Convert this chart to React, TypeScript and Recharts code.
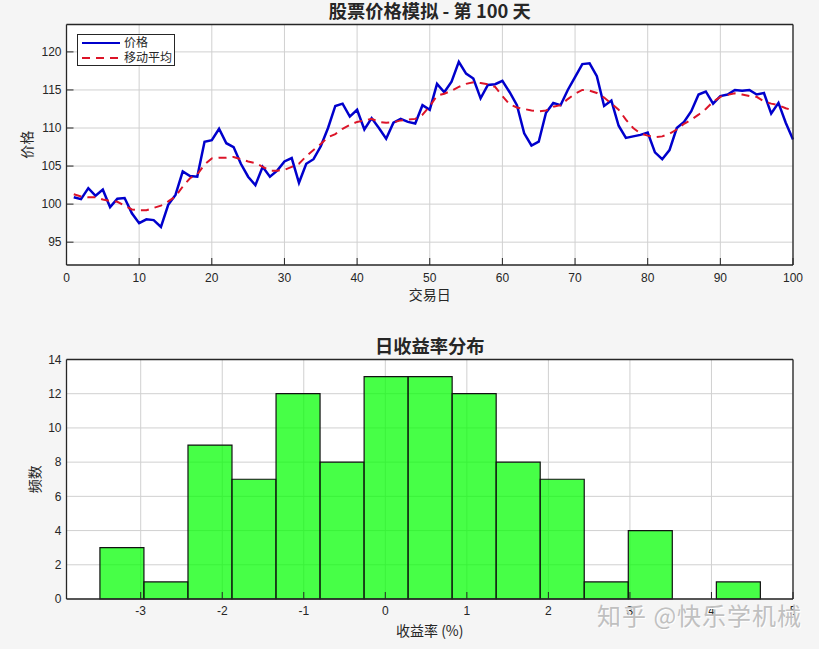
import React from 'react';
import { ComposedChart, Line, Bar, XAxis, YAxis, CartesianGrid, Legend } from 'recharts';

const days: number[] = Array.from({ length: 100 }, (_, i) => i + 1);
const priceValues = [
  100.9, 100.65, 102.1, 101.1, 101.9, 99.6, 100.7, 100.8, 98.8, 97.5,
  98.0, 97.9, 97.0, 99.9, 101.2, 104.3, 103.7, 103.6, 108.2, 108.4,
  109.9, 108.0, 107.5, 105.3, 103.6, 102.5, 104.9, 103.6, 104.4, 105.6,
  106.05, 102.8, 105.3, 105.9, 107.6, 110.0, 112.9, 113.2, 111.5, 112.4,
  109.8, 111.3, 110.0, 108.6, 110.7, 111.2, 110.8, 110.6, 113.0, 112.4,
  115.8, 114.7, 116.1, 118.7, 117.15, 116.5, 113.9, 115.65, 115.75, 116.2,
  114.7, 113.0, 109.3, 107.7, 108.2, 112.0, 113.3, 113.0, 115.0, 116.7,
  118.4, 118.5, 116.8, 112.9, 113.6, 110.3, 108.7, 108.9, 109.1, 109.4,
  106.8, 105.9, 107.1, 110.0, 110.8, 112.2, 114.4, 114.8, 113.2, 114.2,
  114.4, 115.0, 114.9, 115.0, 114.4, 114.6, 111.9, 113.3, 110.7, 108.5,
];
const movingAvg = [
  101.3, 101.0, 100.9, 100.9, 100.6, 100.4, 100.3, 99.8, 99.3, 99.2,
  99.2, 99.5, 99.8, 100.35, 101.0, 102.3, 103.4, 103.9, 105.2, 106.0,
  106.1, 106.1, 106.2, 105.9, 105.6, 105.4, 104.9, 104.4, 104.4, 104.5,
  104.9, 105.3, 106.3, 107.1, 107.9, 108.8, 109.2, 109.9, 110.4, 110.8,
  111.0, 111.2, 110.8, 110.7, 110.75, 111.0, 111.1, 111.2, 111.75, 112.85,
  114.25, 114.5, 114.9, 115.4, 115.8, 116.0, 115.9, 115.75, 115.4, 114.2,
  113.1, 112.7, 112.5, 112.3, 112.2, 112.3, 112.8, 113.0, 113.8, 114.5,
  115.0, 114.9, 114.6, 114.0, 113.2, 112.4, 111.1, 110.0, 109.3, 109.0,
  108.8, 108.9, 109.25, 109.8, 110.55, 111.1, 111.75, 112.5, 113.45, 114.1,
  114.35, 114.55, 114.4, 114.2, 114.1, 113.5, 113.2, 113.0, 112.6, 112.3,
];
const priceData = days.map((d, i) => ({ day: d, price: priceValues[i], ma: movingAvg[i] }));

const binCenters = [-3.23, -2.69, -2.15, -1.61, -1.07, -0.53, 0.01, 0.55, 1.09, 1.63, 2.17, 2.71, 3.25, 3.79, 4.33];
const binCounts = [3, 1, 9, 7, 12, 8, 13, 13, 12, 8, 7, 1, 4, 0, 1];
const histData = binCenters.map((c, i) => ({ r: c, count: binCounts[i] }));

const dayTicks = [0, 10, 20, 30, 40, 50, 60, 70, 80, 90, 100];
const priceTicks = [95, 100, 105, 110, 115, 120];
const returnTicks = [-3, -2, -1, 0, 1, 2, 3, 4, 5];
const countTicks = [0, 2, 4, 6, 8, 10, 12, 14];

const CJK = '"Noto Sans CJK SC", sans-serif';
const LATIN = '"Liberation Sans", Arial, sans-serif';
const INK = '#262626';
const GRID = '#d0d0d0';
const tickStyle = { fontSize: 12, fontFamily: LATIN, fill: INK };
const titleStyle = { fontSize: 18.3, fontWeight: 700, fontFamily: CJK, fill: INK };
const labelStyle = { fontSize: 14, fontFamily: CJK, fill: INK };
const axisLine = { stroke: INK, strokeWidth: 1.3 };

function LegendBox({ payload }: any) {
  return (
    <div style={{ width: 96, height: 30, border: `1px solid ${INK}`, background: '#fff', fontFamily: CJK, fontSize: 12, lineHeight: '14.5px', color: INK }}>
      {(payload || []).map((p: any) => (
        <div key={p.value} style={{ display: 'flex', alignItems: 'center', height: 15 }}>
          <svg width={46} height={6} style={{ display: 'block', flex: 'none' }}>
            <line x1={4} x2={42} y1={3} y2={3} stroke={p.color} strokeWidth={2.2} strokeDasharray={p.payload?.strokeDasharray} />
          </svg>
          <span>{p.value}</span>
        </div>
      ))}
    </div>
  );
}

export default function App() {
  return (
    <div style={{ position: 'absolute', left: 0, top: 0, width: 819, height: 649, background: '#f5f5f5', overflow: 'hidden' }}>
      <div style={{ position: 'absolute', left: 0, top: 0 }}>
        <ComposedChart width={819} height={325} data={priceData} margin={{ top: 23.5, right: 25, bottom: 30, left: 0 }}>
          <CartesianGrid xAxisId="b" yAxisId="l" fill="#fff" stroke={GRID} verticalValues={dayTicks} horizontalValues={priceTicks} />
          <XAxis xAxisId="b" dataKey="day" type="number" domain={[0, 100]} ticks={dayTicks} height={30} interval={0}
            stroke={INK} axisLine={axisLine} tick={tickStyle} tickSize={-7} tickMargin={15}
            label={{ value: '交易日', position: 'insideBottom', offset: -5, style: labelStyle }} />
          <XAxis xAxisId="t" orientation="top" type="number" domain={[0, 100]} ticks={dayTicks} height={1} interval={0}
            stroke={INK} axisLine={axisLine} tick={false} tickSize={-7}
            label={{ value: '股票价格模拟 - 第 100 天', position: 'top', offset: 6, style: titleStyle }} />
          <YAxis yAxisId="l" type="number" domain={[92, 123.6]} ticks={priceTicks} width={66.5} interval={0}
            stroke={INK} axisLine={axisLine} tick={tickStyle} tickSize={-7} tickMargin={12}
            label={{ value: '价格', angle: -90, position: 'insideLeft', offset: 27, textAnchor: 'middle', style: { ...labelStyle, textAnchor: 'middle' } }} />
          <YAxis yAxisId="r" orientation="right" type="number" domain={[92, 123.6]} ticks={priceTicks} width={1} interval={0}
            stroke={INK} axisLine={axisLine} tick={false} tickSize={-7} />
          <Line xAxisId="b" yAxisId="l" dataKey="price" name="价格" stroke="#0000cc" strokeWidth={2.5} dot={false} isAnimationActive={false} />
          <Line xAxisId="b" yAxisId="l" dataKey="ma" name="移动平均" stroke="#dc1428" strokeWidth={2} strokeDasharray="8 6" dot={false} isAnimationActive={false} />
          <Legend layout="horizontal" verticalAlign="middle" align="center" content={<LegendBox />}
            wrapperStyle={{ position: 'absolute', left: 77, top: 34, width: 98, height: 32, margin: 0 }} />
        </ComposedChart>
      </div>
      <div style={{ position: 'absolute', left: 0, top: 325 }}>
        <ComposedChart width={819} height={324} data={histData} barCategoryGap={0} margin={{ top: 33.5, right: 25, bottom: 0, left: 0 }}>
          <CartesianGrid xAxisId="b" yAxisId="l" fill="#fff" stroke={GRID} verticalValues={returnTicks} horizontalValues={countTicks} />
          <XAxis xAxisId="b" dataKey="r" type="number" domain={[-3.91, 5]} allowDataOverflow ticks={returnTicks} height={50} interval={0}
            stroke={INK} axisLine={axisLine} tick={tickStyle} tickSize={-7} tickMargin={14}
            label={{ value: '收益率 (%)', position: 'insideBottom', offset: 13, style: labelStyle }} />
          <XAxis xAxisId="t" orientation="top" type="number" domain={[-3.91, 5]} allowDataOverflow ticks={returnTicks} height={1} interval={0}
            stroke={INK} axisLine={axisLine} tick={false} tickSize={-7}
            label={{ value: '日收益率分布', position: 'top', offset: 6, style: titleStyle }} />
          <YAxis yAxisId="l" type="number" domain={[0, 14]} ticks={countTicks} width={66.5} interval={0}
            stroke={INK} axisLine={axisLine} tick={tickStyle} tickSize={0} tickMargin={5}
            label={{ value: '频数', angle: -90, position: 'insideLeft', offset: 35, textAnchor: 'middle', style: { ...labelStyle, textAnchor: 'middle' } }} />
          <YAxis yAxisId="r" orientation="right" type="number" domain={[0, 14]} ticks={countTicks} width={1} interval={0}
            stroke={INK} axisLine={axisLine} tick={false} tickSize={-7} />
          <Bar xAxisId="b" yAxisId="l" dataKey="count" barSize={44} fill="#00ff00" fillOpacity={0.72} stroke="#111" strokeWidth={1.2} isAnimationActive={false} />
        </ComposedChart>
      </div>
      <div style={{ position: 'absolute', left: 597, top: 598, fontFamily: CJK, fontSize: 24, letterSpacing: 1, lineHeight: '34px', whiteSpace: 'nowrap', color: '#c0c0c0', textShadow: '1px 1px 0 #fff' }}>
        知乎 @快乐学机械
      </div>
    </div>
  );
}
